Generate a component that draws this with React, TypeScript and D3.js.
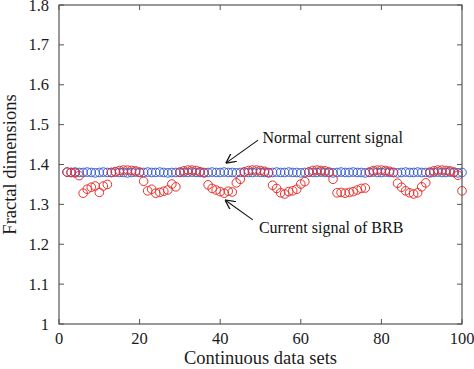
import React from "react";
import * as d3 from "d3";

const xStart = 2;
const normalSignal = [
  1.381, 1.380, 1.381, 1.380, 1.380, 1.381, 1.380, 1.379, 1.380, 1.381,
  1.380, 1.380, 1.381, 1.380, 1.380, 1.379, 1.380, 1.381, 1.380, 1.380,
  1.381, 1.380, 1.380, 1.381, 1.380, 1.379, 1.380, 1.380, 1.381, 1.380,
  1.380, 1.381, 1.380, 1.380, 1.379, 1.380, 1.381, 1.380, 1.380, 1.381,
  1.380, 1.380, 1.379, 1.380, 1.381, 1.380, 1.380, 1.381, 1.380, 1.380,
  1.379, 1.380, 1.381, 1.380, 1.380, 1.381, 1.380, 1.380, 1.379, 1.380,
  1.381, 1.380, 1.380, 1.381, 1.380, 1.380, 1.379, 1.380, 1.381, 1.380,
  1.380, 1.381, 1.380, 1.380, 1.379, 1.380, 1.381, 1.380, 1.380, 1.381,
  1.380, 1.380, 1.379, 1.380, 1.381, 1.380, 1.380, 1.381, 1.380, 1.380,
  1.379, 1.380, 1.381, 1.380, 1.380, 1.381, 1.380, 1.379, 1.380,
];
const brbSignal = [
  1.381, 1.380, 1.379, 1.372, 1.328, 1.338, 1.343, 1.346, 1.330, 1.346,
  1.350, 1.380, 1.382, 1.385, 1.386, 1.386, 1.385, 1.384, 1.381, 1.358,
  1.334, 1.338, 1.328, 1.330, 1.333, 1.336, 1.351, 1.344, 1.380, 1.384,
  1.386, 1.386, 1.385, 1.382, 1.380, 1.349, 1.340, 1.336, 1.332, 1.328,
  1.333, 1.331, 1.354, 1.363, 1.381, 1.385, 1.386, 1.386, 1.385, 1.383,
  1.380, 1.348, 1.340, 1.329, 1.326, 1.332, 1.334, 1.338, 1.351, 1.357,
  1.381, 1.385, 1.386, 1.385, 1.384, 1.381, 1.363, 1.329, 1.330, 1.328,
  1.330, 1.332, 1.336, 1.340, 1.341, 1.381, 1.385, 1.386, 1.386, 1.385,
  1.383, 1.380, 1.353, 1.343, 1.334, 1.329, 1.326, 1.329, 1.344, 1.354,
  1.381, 1.384, 1.386, 1.386, 1.385, 1.384, 1.381, 1.373, 1.334,
];
const xTicks = [0, 20, 40, 60, 80, 100];
const yTicks = [1, 1.1, 1.2, 1.3, 1.4, 1.5, 1.6, 1.7, 1.8];

const W = 474;
const H = 369;
const left = 59;
const right = 462;
const top = 5;
const bottom = 324;
const font = "'Liberation Serif', 'DejaVu Serif', serif";
const axisColor = "#555";

export default function App() {
  const x = d3.scaleLinear().domain([0, 100]).range([left, right]);
  const y = d3.scaleLinear().domain([1, 1.8]).range([bottom, top]);
  const tick = 5;

  return (
    <div style={{ position: "absolute", left: 0, top: 0 }}>
      <svg width={W} height={H} style={{ display: "block", background: "#fff" }}>
        {normalSignal.map((v, i) => (
          <circle key={"n" + i} cx={x(xStart + i)} cy={y(v)} r={4.3}
            fill="none" stroke="#3b5fcf" strokeWidth={1} />
        ))}
        {brbSignal.map((v, i) => (
          <circle key={"b" + i} cx={x(xStart + i)} cy={y(v)} r={4.3}
            fill="none" stroke="#e8312b" strokeWidth={1} />
        ))}
        <rect x={left} y={top} width={right - left} height={bottom - top}
          fill="none" stroke={axisColor} strokeWidth={1.2} />
        {xTicks.map((t) => (
          <g key={"xt" + t}>
            <line x1={x(t)} x2={x(t)} y1={bottom} y2={bottom - tick} stroke={axisColor} />
            <line x1={x(t)} x2={x(t)} y1={top} y2={top + tick} stroke={axisColor} />
            <text x={x(t)} y={bottom + 20} textAnchor="middle" fontFamily={font}
              fontSize={16.5} fill="#1a1a1a">{t}</text>
          </g>
        ))}
        {yTicks.map((t) => (
          <g key={"yt" + t}>
            <line x1={left} x2={left + tick} y1={y(t)} y2={y(t)} stroke={axisColor} />
            <line x1={right} x2={right - tick} y1={y(t)} y2={y(t)} stroke={axisColor} />
            <text x={left - 10} y={y(t) + 5.5} textAnchor="end" fontFamily={font}
              fontSize={16.5} fill="#1a1a1a">{d3.format("~g")(t)}</text>
          </g>
        ))}
        <text x={(left + right) / 2} y={364} textAnchor="middle" fontFamily={font}
          fontSize={18.5} fill="#1a1a1a">Continuous data sets</text>
        <text transform={`translate(16,${(top + bottom) / 2}) rotate(-90)`} textAnchor="middle"
          fontFamily={font} fontSize={18.5} fill="#1a1a1a">Fractal dimensions</text>
        <defs>
          <marker id="ah" viewBox="0 0 10 10" refX="10" refY="5" markerWidth="9" markerHeight="9"
            orient="auto-start-reverse">
            <path d="M0,0 L10,5 L0,10" fill="none" stroke="#111" strokeWidth={1.3} />
          </marker>
        </defs>
        <line x1={x(49.4)} y1={y(1.461)} x2={x(41.4)} y2={y(1.4035)} stroke="#111"
          strokeWidth={1.1} markerEnd="url(#ah)" />
        <text x={x(50.5)} y={y(1.455)} fontFamily={font} fontSize={16} fill="#111">Normal current signal</text>
        <line x1={x(48.1)} y1={y(1.261)} x2={x(41.2)} y2={y(1.311)} stroke="#111"
          strokeWidth={1.1} markerEnd="url(#ah)" />
        <text x={x(49.6)} y={y(1.228)} fontFamily={font} fontSize={16} fill="#111">Current signal of BRB</text>
      </svg>
    </div>
  );
}
